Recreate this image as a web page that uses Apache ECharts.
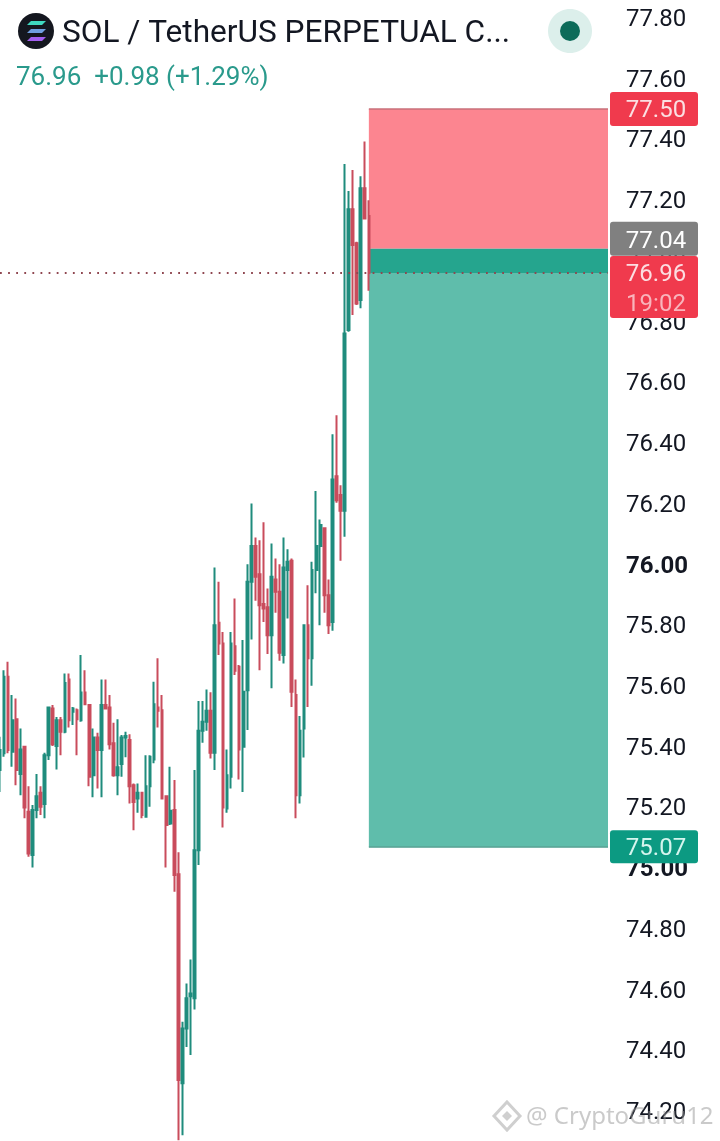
<!DOCTYPE html>
<html>
<head>
<meta charset="utf-8">
<style>html,body{margin:0;padding:0;background:#fff}#c{width:720px;height:1141px}</style>
<script src="https://cdn.jsdelivr.net/npm/echarts@6/dist/echarts.min.js"></script>
</head>
<body>
<div id="c"></div>
<script>
const opens = [75.323,75.378,75.630,75.383,75.490,75.310,75.400,75.186,75.043,75.191,75.248,75.211,75.372,75.526,75.402,75.487,75.449,75.621,75.515,75.520,75.487,75.578,75.537,75.306,75.430,75.389,75.537,75.529,75.411,75.306,75.343,75.430,75.422,75.273,75.229,75.248,75.169,75.270,75.358,75.529,75.520,75.237,75.147,75.191,74.980,74.291,74.472,74.578,74.571,75.059,75.452,75.482,75.518,75.380,75.808,75.740,75.196,75.301,75.731,75.663,75.400,75.586,75.943,76.061,75.968,75.870,75.859,75.767,75.951,75.910,75.702,75.982,76.012,75.570,75.240,75.460,75.800,75.691,75.982,76.061,76.119,75.899,75.811,76.291,76.229,76.177,76.772,77.170,77.058,76.871,77.239,77.148];
const closes = [75.389,75.630,75.389,75.487,75.323,75.391,75.200,75.048,75.191,75.237,75.202,75.372,75.529,75.408,75.487,75.449,75.610,75.487,75.526,75.490,75.578,75.540,75.301,75.430,75.389,75.537,75.526,75.408,75.306,75.332,75.430,75.435,75.270,75.218,75.248,75.175,75.270,75.367,75.540,75.518,75.229,75.142,75.189,74.977,74.302,74.472,74.571,74.587,75.059,75.452,75.482,75.518,75.380,75.800,75.740,75.200,75.306,75.740,75.650,75.391,75.581,75.943,76.061,75.960,75.866,75.855,75.767,75.960,75.910,75.709,75.990,76.009,75.581,75.240,75.452,75.800,75.691,75.982,76.061,76.130,75.899,75.800,76.280,76.212,76.177,76.761,77.170,77.052,76.860,77.239,77.140,76.960];
const lows = [75.251,75.367,75.378,75.334,75.273,75.240,75.164,75.037,75.002,75.164,75.175,75.164,75.356,75.402,75.325,75.372,75.444,75.463,75.471,75.372,75.482,75.537,75.270,75.233,75.262,75.233,75.523,75.391,75.301,75.240,75.301,75.365,75.213,75.125,75.182,75.164,75.169,75.202,75.345,75.463,75.229,75.002,75.142,74.922,74.104,74.120,74.411,74.384,74.534,75.010,75.413,75.452,75.361,75.323,75.702,75.134,75.182,75.262,75.636,75.292,75.251,75.455,75.753,75.881,75.652,75.811,75.705,75.592,75.841,75.683,75.674,75.822,75.531,75.164,75.213,75.364,75.531,75.601,75.905,75.800,75.841,75.771,75.782,76.203,76.012,76.091,76.767,76.822,76.855,76.844,77.140,76.902];
const highs = [75.433,75.652,75.680,75.570,75.559,75.460,75.402,75.270,75.208,75.310,75.270,75.380,75.531,75.537,75.498,75.498,75.641,75.641,75.531,75.526,75.702,75.652,75.537,75.460,75.446,75.621,75.621,75.570,75.479,75.490,75.438,75.449,75.441,75.279,75.279,75.248,75.372,75.372,75.614,75.691,75.570,75.240,75.334,75.290,75.052,74.494,74.620,74.699,75.323,75.550,75.550,75.588,75.579,75.990,75.943,75.778,75.391,75.778,75.888,75.669,75.751,76.001,76.201,76.089,76.080,76.139,75.921,76.069,76.020,76.001,76.089,76.050,76.020,75.621,75.501,75.800,75.932,76.009,76.242,76.148,76.119,75.951,76.429,76.492,76.261,77.319,77.230,77.299,77.063,77.279,77.393,77.200];

const barSlots = 151;
const categories = Array.from({length: barSlots}, (_, i) => String(i));
const zoneStart = 91, zoneEnd = 150;
const stopPrice = 77.50, entryPrice = 77.04, lastPrice = 76.96, targetPrice = 75.07;
const tickMin = 74, tickMax = 78, tickStep = 0.2;
const boldTicks = ['76.00', '75.00'];
const titleText = 'SOL / TetherUS PERPETUAL C...';
const quoteText = '76.96  +0.98 (+1.29%)';
const countdownText = '19:02';
const watermarkText = '@ CryptoGuru12';

const UP = '#1f8c7d', DOWN = '#c94c5c';
const candles = opens.map((o, i) => [o, closes[i], lows[i], highs[i]]);
const FONT = 'Roboto';

function tagShape(h) {
  return 'path://M3 0H85Q88 0 88 3V' + (h - 3) + 'Q88 ' + h + ' 85 ' + h + 'H3Q0 ' + h + ' 0 ' + (h - 3) + 'V3Q0 0 3 0Z';
}
function tag(price, color, text, h, dy, textColor, textDy) {
  return {
    coord: [zoneEnd, price],
    symbol: tagShape(h),
    symbolSize: [88, h],
    symbolOffset: [46, dy],
    itemStyle: {color: color, opacity: 1},
    label: {show: true, position: 'inside', offset: [2, textDy], formatter: text, color: textColor,
            fontFamily: FONT, fontSize: 24, lineHeight: 30,
            rich: {t: {color: '#f9b4bc', fontFamily: FONT, fontSize: 24, lineHeight: 30}}}
  };
}

const chart = echarts.init(document.getElementById('c'), null, {renderer: 'canvas'});
chart.setOption({
  animation: false,
  backgroundColor: '#ffffff',
  grid: {left: 0, right: 112, top: -42.7, height: 1214.4, containLabel: false, outerBoundsMode: 'none'},
  xAxis: {type: 'category', data: categories, boundaryGap: false, show: false},
  yAxis: {
    type: 'value', position: 'right', min: tickMin, max: tickMax, interval: tickStep,
    scale: true, splitLine: {show: false}, axisLine: {show: false}, axisTick: {show: false},
    axisLabel: {
      margin: 18, color: '#131722', fontFamily: FONT, fontSize: 24, padding: [4, 0, 0, 0],
      formatter: v => { const s = v.toFixed(2); return boldTicks.includes(s) ? '{b|' + s + '}' : s; },
      rich: {b: {fontWeight: 'bold', color: '#131722', fontFamily: FONT, fontSize: 24}}
    }
  },
  series: [{
    type: 'candlestick',
    data: candles,
    barWidth: 2.2,
    clip: false,
    silent: true,
    itemStyle: {color: UP, color0: DOWN, borderColor: UP, borderColor0: DOWN, borderWidth: 2},
    markArea: {
      silent: true,
      data: [
        [{coord: [zoneStart, stopPrice], itemStyle: {color: '#fc8590', opacity: 1}}, {coord: [zoneEnd, entryPrice]}],
        [{coord: [zoneStart, entryPrice], itemStyle: {color: '#25a58e', opacity: 1}}, {coord: [zoneEnd, lastPrice]}],
        [{coord: [zoneStart, lastPrice], itemStyle: {color: '#5fbdab', opacity: 1}}, {coord: [zoneEnd, targetPrice]}]
      ]
    },
    markLine: {
      silent: true, symbol: 'none', label: {show: false},
      data: [
        [{coord: [0, lastPrice], lineStyle: {color: '#8f4650', width: 1.8, type: [1.8, 6.3]}}, {coord: [zoneEnd, lastPrice]}],
        [{coord: [zoneStart, stopPrice], lineStyle: {color: '#c9707a', width: 1.5, type: 'solid'}}, {coord: [zoneEnd, stopPrice]}],
        [{coord: [zoneStart, targetPrice], lineStyle: {color: '#4d9c8e', width: 1.5, type: 'solid'}}, {coord: [zoneEnd, targetPrice]}]
      ]
    },
    markPoint: {
      silent: true,
      data: [
        tag(stopPrice, '#f03a4d', stopPrice.toFixed(2), 34, 0, '#fbdfe2', 2),
        tag(entryPrice, '#808080', entryPrice.toFixed(2), 34, -10, '#ffffff', 3),
        tag(lastPrice, '#f03a4d', lastPrice.toFixed(2) + '\n{t|' + countdownText + '}', 62, 14, '#fcdde1', 3),
        tag(targetPrice, '#0c9a82', targetPrice.toFixed(2), 33, 0, '#d5f5ee', 2)
      ]
    }
  }],
  graphic: [
    {type: 'circle', shape: {cx: 36, cy: 31, r: 18}, style: {fill: '#14171f'}, silent: true},
    {type: 'polygon', shape: {points: [[27, 25], [42, 25], [46, 21], [31, 21]]}, style: {fill: '#3fd8c0'}, silent: true},
    {type: 'polygon', shape: {points: [[31, 29], [46, 29], [42, 33], [27, 33]]}, style: {fill: '#6f9fe0'}, silent: true},
    {type: 'polygon', shape: {points: [[27, 41], [42, 41], [46, 37], [31, 37]]}, style: {fill: '#a35ff0'}, silent: true},
    {type: 'text', style: {x: 62, y: 34, text: titleText, fill: '#131722', font: '31.6px Roboto', textVerticalAlign: 'middle'}, silent: true},
    {type: 'text', style: {x: 16, y: 78, text: quoteText, fill: '#2a9a8c', font: '26px Roboto', textVerticalAlign: 'middle'}, silent: true},
    {type: 'ellipse', shape: {cx: 570, cy: 31, rx: 22, ry: 22}, style: {fill: '#dcefeb'}, silent: true},
    {type: 'circle', shape: {cx: 570, cy: 31, r: 10}, style: {fill: '#0c6b59'}, silent: true},
    {type: 'text', z: 20, style: {x: 526, y: 1117, text: watermarkText, fill: 'rgba(150,150,150,0.5)', font: '24px "Noto Sans"', textVerticalAlign: 'middle'}, silent: true},
    {type: 'polygon', z: 20, shape: {points: [[507, 1102], [520, 1116], [507, 1130], [494, 1116]]}, style: {fill: 'none', stroke: 'rgba(160,160,160,0.5)', lineWidth: 3}, silent: true},
    {type: 'polygon', z: 20, shape: {points: [[507, 1111], [512, 1116], [507, 1121], [502, 1116]]}, style: {fill: 'rgba(160,160,160,0.5)'}, silent: true}
  ]
});
</script>
</body>
</html>
